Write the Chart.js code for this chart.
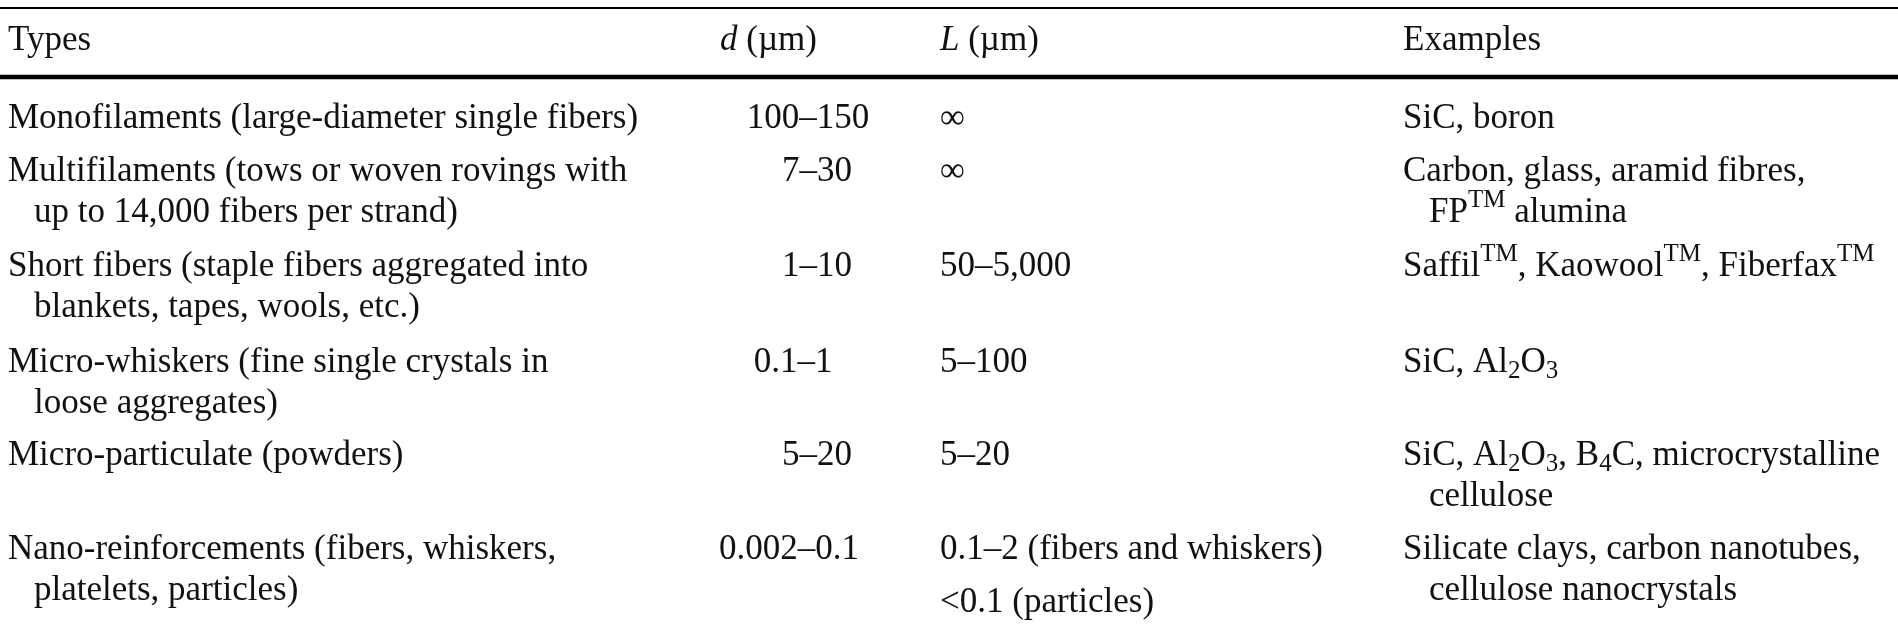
<!DOCTYPE html>
<html>
<head>
<meta charset="utf-8">
<script src="https://cdn.jsdelivr.net/npm/chart.js@4"></script>
<style>
  html, body { margin: 0; padding: 0; background: #fff; }
  #wrap { width: 1898px; height: 635px; }
</style>
</head>
<body>
<div id="wrap"><canvas id="tbl"></canvas></div>
<script>
// table content (^{..} superscript, _{..} subscript, *..* italic, \n line break)
const headers = ['Types', '*d* (µm)', '*L* (µm)', 'Examples'];
const types = [
    'Monofilaments (large-diameter single fibers)',
    'Multifilaments (tows or woven rovings with\nup to 14,000 fibers per strand)',
    'Short fibers (staple fibers aggregated into\nblankets, tapes, wools, etc.)',
    'Micro-whiskers (fine single crystals in\nloose aggregates)',
    'Micro-particulate (powders)',
    'Nano-reinforcements (fibers, whiskers,\nplatelets, particles)'
];
const diameters = ['100–150', '7–30', '1–10', '0.1–1', '5–20', '0.002–0.1'];
const lengths = ['∞', '∞', '50–5,000', '5–100', '5–20', '0.1–2 (fibers and whiskers)\n<0.1 (particles)'];
const examples = [
    'SiC, boron',
    'Carbon, glass, aramid fibres,\nFP^{TM} alumina',
    'Saffil^{TM}, Kaowool^{TM}, Fiberfax^{TM}',
    'SiC, Al_{2}O_{3}',
    'SiC, Al_{2}O_{3}, B_{4}C, microcrystalline\ncellulose',
    'Silicate clays, carbon nanotubes,\ncellulose nanocrystals'
];

// layout
const FONT = 'Liberation Serif';
const SIZE = 35;
const rowY = [119, 172, 267, 363, 456, 550];
const lineGap = 41;
const dCenter = [808, 817, 817, 793, 817, 789];
const colX = {types: 8, dHead: 720, L: 940, ex: 1403};

function parseRich(str) {
    const parts = [];
    const re = /\^\{([^}]*)\}|_\{([^}]*)\}|\*([^*]*)\*|([^\^_*]+)/g;
    let m;
    while ((m = re.exec(str)) !== null) {
        if (m[1] !== undefined) parts.push({t: m[1], k: 'sup'});
        else if (m[2] !== undefined) parts.push({t: m[2], k: 'sub'});
        else if (m[3] !== undefined) parts.push({t: m[3], k: 'it'});
        else parts.push({t: m[4], k: 'n'});
    }
    return parts;
}

function fontFor(k) {
    if (k === 'sup' || k === 'sub') return `${Math.round(SIZE * 0.7)}px "${FONT}"`;
    if (k === 'it') return `italic ${SIZE}px "${FONT}"`;
    return `${SIZE}px "${FONT}"`;
}

function richWidth(ctx, parts) {
    let w = 0;
    parts.forEach(p => { ctx.font = fontFor(p.k); w += ctx.measureText(p.t).width; });
    return w;
}

function drawRich(ctx, str, x, y, align) {
    const parts = parseRich(str);
    if (align === 'center') x -= richWidth(ctx, parts) / 2;
    parts.forEach(p => {
        ctx.font = fontFor(p.k);
        let dy = 0;
        if (p.k === 'sup') dy = -SIZE * 0.35;
        if (p.k === 'sub') dy = SIZE * 0.25;
        ctx.fillText(p.t, x, y + dy);
        x += ctx.measureText(p.t).width;
    });
}

const tablePlugin = {
    id: 'tablePlugin',
    afterDraw(chart) {
        const ctx = chart.ctx;
        const xs = chart.scales.x, ys = chart.scales.y;
        const px = v => xs.getPixelForValue(v);
        const py = v => ys.getPixelForValue(v);
        ctx.save();
        ctx.fillStyle = '#111';
        ctx.strokeStyle = '#000';
        ctx.textBaseline = 'middle';

        // rules
        ctx.lineWidth = 2;
        ctx.beginPath(); ctx.moveTo(px(0), py(8)); ctx.lineTo(px(1898), py(8)); ctx.stroke();
        ctx.lineWidth = 4.5;
        ctx.beginPath(); ctx.moveTo(px(0), py(77)); ctx.lineTo(px(1898), py(77)); ctx.stroke();

        // header
        drawRich(ctx, headers[0], px(colX.types), py(41));
        drawRich(ctx, headers[1], px(colX.dHead), py(41));
        drawRich(ctx, headers[2], px(colX.L), py(41));
        drawRich(ctx, headers[3], px(colX.ex), py(41));

        // body
        types.forEach((t, i) => {
            const y0 = rowY[i];
            t.split('\n').forEach((line, j) =>
                drawRich(ctx, line, px(colX.types + (j ? 26 : 0)), py(y0 + j * lineGap)));
            drawRich(ctx, diameters[i], px(dCenter[i]), py(y0), 'center');
            lengths[i].split('\n').forEach((line, j) =>
                drawRich(ctx, line, px(colX.L), py(y0 + j * 53)));
            examples[i].split('\n').forEach((line, j) =>
                drawRich(ctx, line, px(colX.ex + (j ? 26 : 0)), py(y0 + j * lineGap)));
        });
        ctx.restore();
    }
};

new Chart(document.getElementById('tbl'), {
    type: 'scatter',
    data: { datasets: [{ data: [] }] },
    options: {
        responsive: true,
        maintainAspectRatio: false,
        animation: false,
        layout: { padding: 0 },
        plugins: { legend: { display: false }, tooltip: { enabled: false } },
        scales: {
            x: { type: 'linear', min: 0, max: 1898, display: false },
            y: { type: 'linear', min: 0, max: 635, reverse: true, display: false }
        }
    },
    plugins: [tablePlugin]
});
</script>
</body>
</html>
